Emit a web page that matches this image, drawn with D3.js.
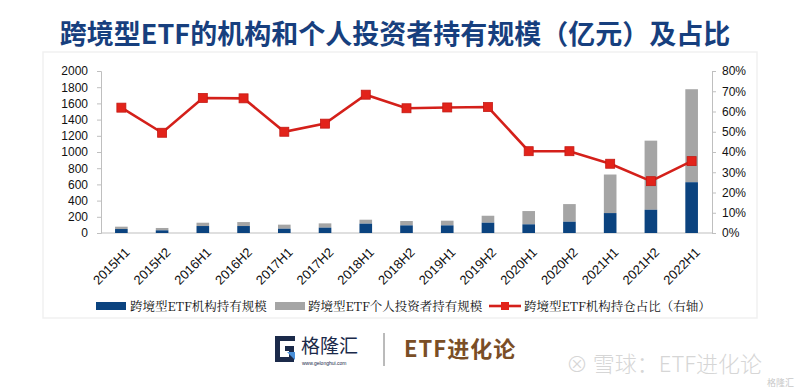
<!DOCTYPE html>
<html><head><meta charset="utf-8">
<script src="https://cdn.jsdelivr.net/npm/d3@7"></script>
<style>
html,body{margin:0;padding:0;background:#fff;}
svg{display:block;}
</style></head>
<body>
<svg id="c" width="800" height="390"></svg>
<script>
const categories = ["2015H1","2015H2","2016H1","2016H2","2017H1","2017H2","2018H1","2018H2","2019H1","2019H2","2020H1","2020H2","2021H1","2021H2","2022H1"];
const institutional = [49,33,86,86,53,66,115,94,94,127,107,139,246,287,627];
const individual = [29,29,41,49,50,53,49,54,58,86,164,218,476,853,1148];
const instShare = [0.619,0.495,0.667,0.665,0.500,0.540,0.683,0.616,0.620,0.622,0.404,0.404,0.342,0.256,0.355];
const leftTicks = [0,200,400,600,800,1000,1200,1400,1600,1800,2000];
const rightTicks = [0,0.1,0.2,0.3,0.4,0.5,0.6,0.7,0.8];
const title = "跨境型ETF的机构和个人投资者持有规模（亿元）及占比";
const legendLabels = ["跨境型ETF机构持有规模","跨境型ETF个人投资者持有规模","跨境型ETF机构持仓占比（右轴）"];

const svg = d3.select("#c");
const C = {blue:"#0b437f", gray:"#a5a5a5", red:"#e2231a", title:"#173f7e", axis:"#bfbfbf"};
const M = {l:101, r:712, t:71, b:233};

// panel
svg.append("rect").attr("x",43).attr("y",52).attr("width",714).attr("height",266)
  .attr("fill","#fff").attr("stroke","#f1f1f1").attr("stroke-width",1.5);

svg.append("text").attr("x",395).attr("y",44).attr("text-anchor","middle")
  .attr("font-family","Noto Sans CJK SC").attr("font-weight","bold").attr("font-size",27)
  .attr("fill",C.title).text(title);

const x = d3.scaleBand().domain(categories).range([M.l,M.r]).paddingInner(0.69).paddingOuter(0.345);
const yL = d3.scaleLinear().domain([0,2000]).range([M.b,M.t]);
const yR = d3.scaleLinear().domain([0,0.8]).range([M.b,M.t]);

const fontNum = "Liberation Sans, Arial, sans-serif";

// axes
const axL = svg.append("g").attr("transform",`translate(${M.l},0)`)
  .call(d3.axisLeft(yL).tickValues(leftTicks).tickSize(4).tickPadding(9).tickFormat(d3.format("d")));
const axR = svg.append("g").attr("transform",`translate(${M.r},0)`)
  .call(d3.axisRight(yR).tickValues(rightTicks).tickSize(4).tickPadding(6).tickFormat(d3.format(".0%")));
const axB = svg.append("g").attr("transform",`translate(0,${M.b})`)
  .call(d3.axisBottom(x).tickSize(0).tickPadding(0));
[axL,axR,axB].forEach(a=>{
  a.selectAll("path,line").attr("stroke",C.axis);
  a.selectAll("text").attr("font-family",fontNum).attr("font-size",12).attr("fill","#111");
});
axB.select(".domain").attr("d",`M${M.l},0H${M.r}`);
axB.selectAll("text").attr("font-size",13).attr("text-anchor","end").attr("dy","0.35em").attr("y",0)
  .attr("transform","translate(6,17) rotate(-45)");

// stacked bars
const bw = x.bandwidth();
svg.append("g").selectAll("rect").data(categories).join("rect")
  .attr("x",d=>x(d)).attr("width",bw)
  .attr("y",(d,i)=>yL(institutional[i]+individual[i]))
  .attr("height",(d,i)=>yL(institutional[i])-yL(institutional[i]+individual[i]))
  .attr("fill",C.gray);
svg.append("g").selectAll("rect").data(categories).join("rect")
  .attr("x",d=>x(d)).attr("width",bw)
  .attr("y",(d,i)=>yL(institutional[i]))
  .attr("height",(d,i)=>M.b-yL(institutional[i]))
  .attr("fill",C.blue);

// line
const cx = d=>x(d)+bw/2;
svg.append("path").datum(categories)
  .attr("d",d3.line().x(cx).y((d,i)=>yR(instShare[i])))
  .attr("fill","none").attr("stroke","#d4201a").attr("stroke-width",2.6);
svg.append("g").selectAll("rect").data(categories).join("rect")
  .attr("x",d=>cx(d)-4.5).attr("y",(d,i)=>yR(instShare[i])-4.5)
  .attr("width",9).attr("height",9).attr("fill",C.red).attr("stroke","#c41a14").attr("stroke-width",0.8);

// legend
const lg = svg.append("g").attr("font-family","Noto Serif CJK SC, Noto Sans CJK SC").attr("font-size",12.5).attr("fill","#111");
lg.append("rect").attr("x",96).attr("y",302).attr("width",30).attr("height",8).attr("fill",C.blue);
lg.append("text").attr("x",130).attr("y",310.5).text(legendLabels[0]);
lg.append("rect").attr("x",275).attr("y",302).attr("width",30).attr("height",8).attr("fill",C.gray);
lg.append("text").attr("x",308).attr("y",310.5).text(legendLabels[1]);
lg.append("line").attr("x1",489).attr("x2",521).attr("y1",306).attr("y2",306).attr("stroke","#d4201a").attr("stroke-width",2.6);
lg.append("rect").attr("x",501).attr("y",302).attr("width",8).attr("height",8).attr("fill",C.red);
lg.append("text").attr("x",524).attr("y",310.5).text(legendLabels[2]);

// footer logo
const f = svg.append("g");
f.append("path").attr("d","M275,336 h20 v5 h-15 v16 h9 v-6 h-4 v-5 h9 v16 h-19 z").attr("fill","#1b2a4a");
f.append("path").attr("d","M287,352 l8,0 l0,8 z").attr("fill","#4a90d9");
f.append("text").attr("x",301).attr("y",353).attr("font-family","Noto Sans CJK SC").attr("font-size",19).attr("fill","#1b2a4a").text("格隆汇");
f.append("text").attr("x",302).attr("y",365).attr("font-family",fontNum).attr("font-size",5).attr("fill","#1b2a4a").text("www.gelonghui.com");
f.append("line").attr("x1",384).attr("x2",384).attr("y1",333).attr("y2",366).attr("stroke","#777").attr("stroke-width",1);
f.append("text").attr("x",404).attr("y",357).attr("font-family","Noto Sans CJK SC").attr("font-weight","bold").attr("font-size",22).attr("letter-spacing",1).attr("fill","#7a4e26").text("ETF进化论");
f.append("text").attr("x",566).attr("y",372).attr("font-family","Noto Sans CJK SC").attr("font-weight","300").attr("font-size",22).attr("fill","#d6d6d6").text("⊗ 雪球：ETF进化论");
f.append("text").attr("x",767).attr("y",386).attr("font-family","Noto Sans CJK SC").attr("font-size",9).attr("fill","#c8c8c8").text("格隆汇");
</script>
</body></html>
